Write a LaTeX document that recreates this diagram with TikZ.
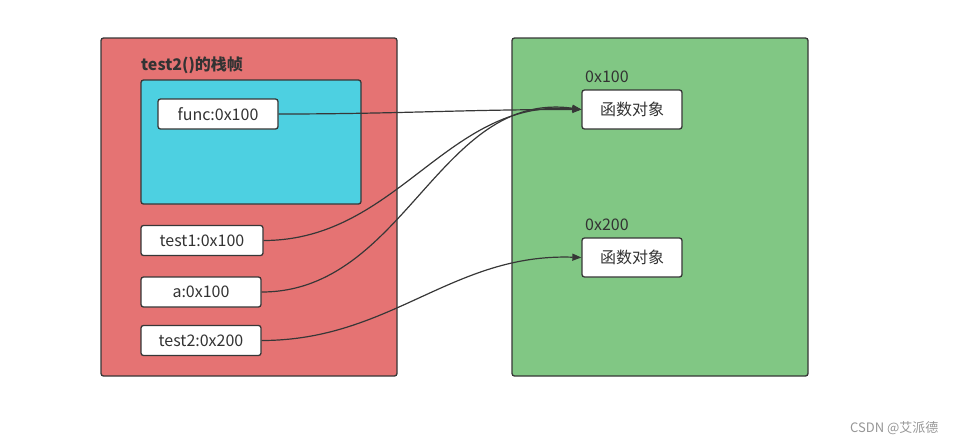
\documentclass[tikz,border=0pt]{standalone}
\usepackage{fontspec}
\setmainfont{Noto Sans CJK SC}
\usepackage{tikz}
\usetikzlibrary{arrows.meta, positioning}
\definecolor{frameRed}{RGB}{229, 115, 115}
\definecolor{heapGreen}{RGB}{129, 199, 132}
\definecolor{innerCyan}{RGB}{77, 208, 225}
\definecolor{edgeDark}{RGB}{55, 55, 55}
\definecolor{textDark}{RGB}{51, 51, 51}
\definecolor{markGray}{RGB}{150, 150, 150}

\begin{document}
\begin{tikzpicture}[
    x=1pt, y=-1pt,
    area/.style={
        rectangle,
        rounded corners=2.5pt,
        draw=edgeDark,
        line width=1.3pt
    },
    var/.style={
        rectangle,
        rounded corners=2.5pt,
        minimum width=120pt,
        minimum height=30pt,
        text centered,
        font=\fontsize{16}{18}\selectfont,
        text=textDark,
        draw=edgeDark,
        line width=1.3pt,
        fill=white
    },
    obj/.style={
        var,
        minimum width=100pt,
        minimum height=39pt
    },
    tag/.style={
        anchor=west,
        inner sep=0pt,
        font=\fontsize{16}{18}\selectfont,
        text=textDark
    },
    link/.style={
        -{Triangle[length=9pt, width=7pt]},
        line width=1.2pt,
        color=edgeDark
    }
]
\useasboundingbox (0,0) rectangle (956,445);

% Stack frame
\node[area, fill=frameRed, minimum width=296pt, minimum height=338pt] (frame) at (249,207) {};
\node[tag, font=\fontsize{16}{18}\selectfont\bfseries] (title) at (141,65) {test2()的栈帧};
\node[area, fill=innerCyan, minimum width=220pt, minimum height=124pt] (inner) at (251,142) {};
\node[var] (func) at (218,114) {func:0x100};
\node[var, minimum width=122pt] (test1) at (202,240.5) {test1:0x100};
\node[var] (a) at (201,292) {a:0x100};
\node[var] (test2) at (201,340.5) {test2:0x200};

% Heap
\node[area, fill=heapGreen, minimum width=296pt, minimum height=338pt] (heap) at (660,207) {};
\node[obj] (obj1) at (632,109.5) {函数对象};
\node[tag] (addr1) at (585,77) {0x100};
\node[obj] (obj2) at (632,257.5) {函数对象};
\node[tag] (addr2) at (585,225) {0x200};

% References
\draw[link] (func.east) to[out=0, in=180] (obj1.west);
\draw[link] (test1.east) to[out=0, in=175] (obj1.west);
\draw[link] (a.east) to[out=0, in=172] (obj1.west);
\draw[link] (test2.east) to[out=0, in=178] (obj2.west);

% Watermark
\node[anchor=east, font=\fontsize{13}{15}\selectfont, text=markGray] (mark) at (942,428) {CSDN @艾派德};

\end{tikzpicture}
\end{document}
